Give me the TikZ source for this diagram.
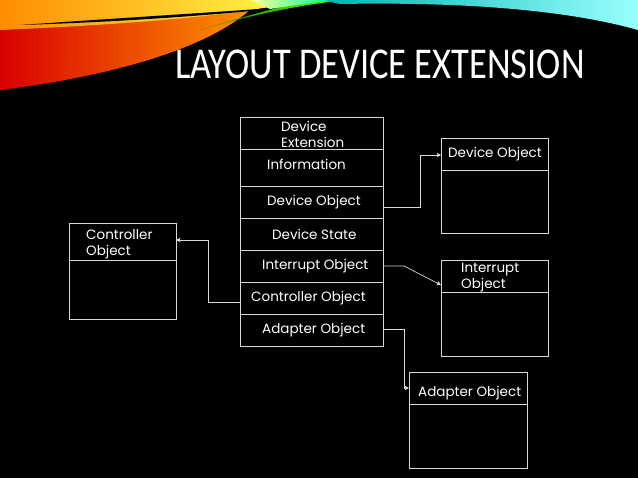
\documentclass[tikz,border=0pt]{standalone}
\usepackage{fontspec}
\setmainfont{Poppins}
\newfontfamily\titlefont{Carlito}
\usetikzlibrary{arrows.meta}
\begin{document}
\begin{tikzpicture}[x=1pt,y=-1pt,
  box/.style={draw=white!85!black,line width=0.8pt},
  lbl/.style={text=white,font=\fontsize{13.5}{16}\selectfont,inner sep=0pt,align=left,anchor=west},
  conn/.style={draw=white!85!black,line width=0.7pt,-{Triangle[length=4pt,width=4pt]}}]
\useasboundingbox (0,0) rectangle (638,478);
\fill[black] (0,0) rectangle (638,478);
% swoosh
\shade[left color=red!85!black,right color=orange!80!yellow]
  (0,0) -- (260,0) .. controls (220,45) and (120,75) .. (0,90) -- cycle;
\shade[left color=orange!90!yellow,right color=yellow!70!white]
  (0,0) -- (300,0) .. controls (250,15) and (120,25) .. (0,30) -- cycle;
\fill[black] (20,25) .. controls (120,18) and (220,12) .. (300,6) .. controls (220,15) and (120,22) .. (20,25);
\shade[left color=green!50!black,right color=green!60!yellow]
  (200,30) .. controls (250,15) and (290,3) .. (320,0) -- (345,0) .. controls (300,5) and (250,15) .. (200,30);
\shade[left color=teal!60!cyan,right color=cyan!40!white]
  (320,0) -- (638,0) -- (638,30) .. controls (560,8) and (450,2) .. (340,4) -- cycle;
\shade[left color=yellow!40!white,right color=green!40!cyan]
  (250,0) -- (330,0) .. controls (310,3) and (290,6) .. (270,9) -- cycle;
% title
\node[text=white,font=\titlefont\fontsize{44}{44}\selectfont,anchor=base west,inner sep=0pt,xscale=0.83] (title) at (175,79) {LAYOUT DEVICE EXTENSION};
% main table
\draw[box] (240,117) rectangle (383,346);
\foreach \y in {149,186,218,250,282,314} \draw[box] (240,\y) -- (383,\y);
\node[lbl] (t1) at (281,134) {Device\\Extension};
\node[lbl] (t2) at (267,164) {Information};
\node[lbl] (rdev) at (267,202) {Device Object};
\node[lbl] (rstate) at (272,234) {Device State};
\node[lbl] (rint) at (262,266) {Interrupt Object};
\node[lbl] (rctl) at (251,298) {Controller Object};
\node[lbl] (radp) at (262,330) {Adapter Object};
\coordinate (dR) at (383,207); \coordinate (iR) at (383,266);
\coordinate (aR) at (383,329); \coordinate (cL) at (240,302);
% device object box
\draw[box] (441,138) rectangle (548,233); \draw[box] (441,170) -- (548,170);
\node[lbl] (bdev) at (448,154) {Device Object};
\coordinate (dIn) at (441,155);
% interrupt box
\draw[box] (441,260) rectangle (548,356); \draw[box] (441,292) -- (548,292);
\node[lbl] (bint) at (461,278) {Interrupt\\Object};
\coordinate (iIn) at (441,285);
% adapter box
\draw[box] (409,372) rectangle (527,468); \draw[box] (409,404) -- (527,404);
\node[lbl] (badp) at (418,393) {Adapter Object};
\coordinate (aIn) at (409,388);
% controller box
\draw[box] (69,223) rectangle (176,319); \draw[box] (69,260) -- (176,260);
\node[lbl] (bctl) at (86,244) {Controller\\Object};
\coordinate (cIn) at (176,240);
% connectors
\draw[conn] (dR) -- (420,207) -- (420,155) -- (dIn);
\draw[conn] (iR) -- (404,266) -- (iIn);
\draw[conn] (aR) -- (404,329) -- (404,388) -- (aIn);
\draw[conn] (cL) -- (208,302) -- (208,240) -- (cIn);
\end{tikzpicture}
\end{document}
